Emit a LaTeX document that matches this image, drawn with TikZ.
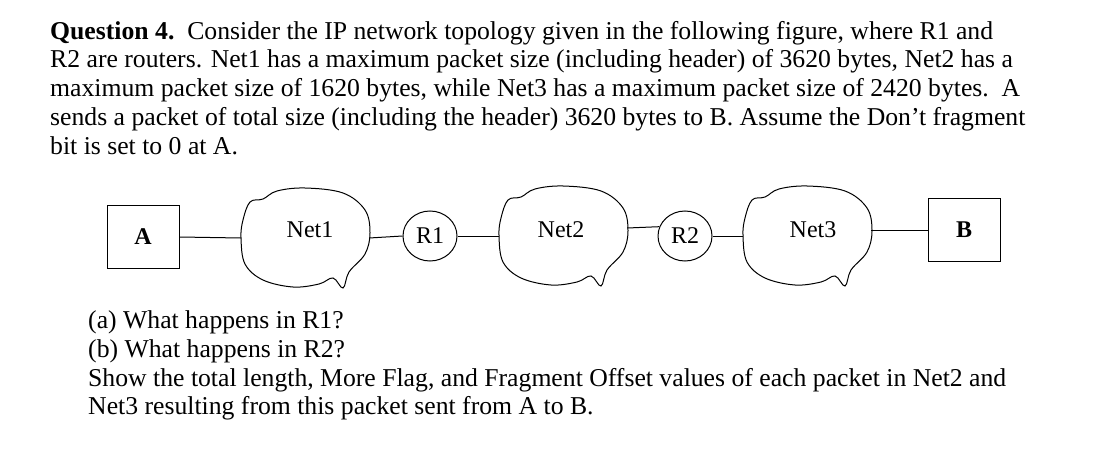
\documentclass[tikz,border=0pt]{standalone}
\usepackage{fontspec}
\setmainfont{Liberation Serif}
\usetikzlibrary{shapes.geometric}
\begin{document}
\begin{tikzpicture}[x=1pt,y=-1pt,
  txt/.style={anchor=base west,inner sep=0pt,font=\fontsize{25.7}{29}\selectfont},
  box/.style={draw,line width=1pt,minimum width=72pt,minimum height=63pt,inner sep=0pt,font=\fontsize{24}{28}\selectfont\bfseries},
  rtr/.style={draw,line width=1pt,ellipse,minimum width=54pt,minimum height=50pt,inner sep=0pt,font=\fontsize{24}{28}\selectfont},
  net/.style={minimum width=128pt,minimum height=96pt,inner sep=0pt},
  lbl/.style={font=\fontsize{24}{28}\selectfont},
  link/.style={line width=1pt}]
\useasboundingbox (0,0) rectangle (1107,465);
\newcommand{\cloud}[2]{\draw[line width=1pt,shift={(#1,#2)}] plot[smooth cycle,tension=0.6] coordinates {
  (-64,0) (-60,26) (-42,42) (-12,49) (14,46) (28,40) (38,50) (44,34) (60,16) (65,-5) (60,-28) (38,-45) (0,-50) (-28,-47) (-42,-39) (-55,-36) (-62,-18)};}
% text
\node[txt] (l1) at (50,40) {\textbf{Question 4.}\ \ Consider the IP network topology given in the following figure, where R1 and};
\node[txt] (l2) at (50,68) {R2 are routers. Net1 has a maximum packet size (including header) of 3620 bytes, Net2 has a};
\node[txt] (l3) at (50,97) {maximum packet size of 1620 bytes, while Net3 has a maximum packet size of 2420 bytes.\ \ A};
\node[txt] (l4) at (50,126) {sends a packet of total size (including the header) 3620 bytes to B. Assume the Don’t fragment};
\node[txt] (l5) at (50,155) {bit is set to 0 at A.};
\node[txt] (q1) at (88,328) {(a) What happens in R1?};
\node[txt] (q2) at (88,357) {(b) What happens in R2?};
\node[txt] (q3) at (88,386) {Show the total length, More Flag, and Fragment Offset values of each packet in Net2 and};
\node[txt] (q4) at (88,414) {Net3 resulting from this packet sent from A to B.};
% topology
\node[box] (A) at (143,237) {A};
\node[box] (B) at (964,230) {B};
\node[rtr] (R1) at (430,236) {R1};
\node[rtr] (R2) at (685,236) {R2};
\cloud{305}{238}\node[net] (N1) at (305,238) {};
\cloud{563}{236}\node[net] (N2) at (563,236) {};
\cloud{807}{236}\node[net] (N3) at (807,236) {};
\node[lbl] at (310,230) {Net1};
\node[lbl] at (561,230) {Net2};
\node[lbl] at (813,230) {Net3};
\draw[link] (A.east) -- (N1.west);
\draw[link] (N1.east) -- (R1.west);
\draw[link] (R1.east) -- (N2.west);
\draw[link] ([yshift=8pt]N2.east) -- (R2.160);
\draw[link] (R2.east) -- (N3.west);
\draw[link] ([yshift=6pt]N3.east) -- (B.west);
\end{tikzpicture}
\end{document}
